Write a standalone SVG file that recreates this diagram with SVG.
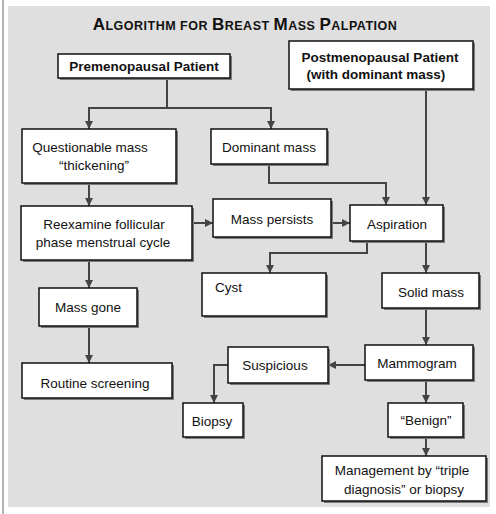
<svg xmlns="http://www.w3.org/2000/svg" width="496" height="514" viewBox="0 0 496 514">
<style>
.bg{fill:#dfdfdf}
.sh{fill:#7a7a7a}
.bx{fill:#ffffff;stroke:#111;stroke-width:1.5}
.t{font-family:"Liberation Sans",Arial,sans-serif;font-size:13.5px;fill:#111;text-anchor:middle}
.b{font-weight:bold;font-size:13.5px}
.ttl{font-family:"Liberation Sans",Arial,sans-serif;font-weight:bold;fill:#111;text-anchor:middle;letter-spacing:0.5px}
.big{font-size:17px}
.sm{font-size:12.5px}
.c{fill:none;stroke:#444;stroke-width:2}
.ca{fill:none;stroke:#444;stroke-width:2;marker-end:url(#ah)}
</style>
<defs>
<marker id="ah" viewBox="0 0 10 10" refX="10" refY="5" markerWidth="8" markerHeight="8" markerUnits="userSpaceOnUse" orient="auto">
<path d="M0,0 L10,5 L0,10 z" fill="#444"/>
</marker>
</defs>
<rect x="0" y="0" width="496" height="514" fill="#ffffff"/>
<line x1="3" y1="0" x2="3" y2="514" stroke="#666" stroke-width="1"/>
<rect class="bg" x="8" y="6" width="482" height="501"/>
<text class="ttl" x="245" y="30"><tspan class="big">A</tspan><tspan class="sm">LGORITHM FOR </tspan><tspan class="big">B</tspan><tspan class="sm">REAST </tspan><tspan class="big">M</tspan><tspan class="sm">ASS </tspan><tspan class="big">P</tspan><tspan class="sm">ALPATION</tspan></text>

<g id="connectors">
<path class="c" d="M167,78 V108"/>
<path class="ca" d="M167,108 H89 V129"/>
<path class="ca" d="M167,108 H271 V129"/>
<path class="ca" d="M269,164 V183 H386 V205"/>
<path class="ca" d="M426,89 V205"/>
<path class="ca" d="M89,183 V206"/>
<path class="ca" d="M192,223 H213"/>
<path class="ca" d="M331,223 H350"/>
<path class="ca" d="M367,241 V253 H270 V273"/>
<path class="ca" d="M426,241 V273"/>
<path class="ca" d="M89,260 V288"/>
<path class="ca" d="M89,326 V363"/>
<path class="ca" d="M426,308 V345"/>
<path class="ca" d="M365,365 H328"/>
<path class="ca" d="M228,365 H214 V403"/>
<path class="ca" d="M426,380 V403"/>
<path class="ca" d="M426,437 V456"/>
</g>

<g id="premenopausal">
<rect class="sh" x="60" y="56" width="172" height="24"/>
<rect class="bx" x="58" y="54" width="172" height="24"/>
<text class="t b" x="144" y="71">Premenopausal Patient</text>
</g>
<g id="postmenopausal">
<rect class="sh" x="291" y="43" width="184" height="48"/>
<rect class="bx" x="289" y="41" width="184" height="48"/>
<text class="t b" x="380" y="62">Postmenopausal Patient</text>
<text class="t b" x="376" y="79">(with dominant mass)</text>
</g>
<g id="questionable">
<rect class="sh" x="24" y="131" width="154" height="54"/>
<rect class="bx" x="22" y="129" width="154" height="54"/>
<text class="t" x="90" y="152">Questionable mass</text>
<text class="t" x="94" y="170">“thickening”</text>
</g>
<g id="dominant">
<rect class="sh" x="213" y="131" width="116" height="35"/>
<rect class="bx" x="211" y="129" width="116" height="35"/>
<text class="t" x="269" y="152">Dominant mass</text>
</g>
<g id="reexamine">
<rect class="sh" x="23" y="208" width="171" height="54"/>
<rect class="bx" x="21" y="206" width="171" height="54"/>
<text class="t" x="104" y="229">Reexamine follicular</text>
<text class="t" x="103" y="247">phase menstrual cycle</text>
</g>
<g id="persists">
<rect class="sh" x="215" y="201" width="118" height="38"/>
<rect class="bx" x="213" y="199" width="118" height="38"/>
<text class="t" x="272" y="224">Mass persists</text>
</g>
<g id="aspiration">
<rect class="sh" x="352" y="207" width="93" height="36"/>
<rect class="bx" x="350" y="205" width="93" height="36"/>
<text class="t" x="397" y="229">Aspiration</text>
</g>
<g id="cyst">
<rect class="sh" x="204" y="275" width="124" height="43"/>
<rect class="bx" x="202" y="273" width="124" height="43"/>
<text class="t" x="215" y="292" style="text-anchor:start">Cyst</text>
</g>
<g id="solid">
<rect class="sh" x="384" y="275" width="97" height="35"/>
<rect class="bx" x="382" y="273" width="97" height="35"/>
<text class="t" x="431" y="297">Solid mass</text>
</g>
<g id="massgone">
<rect class="sh" x="41" y="290" width="98" height="38"/>
<rect class="bx" x="39" y="288" width="98" height="38"/>
<text class="t" x="88" y="312">Mass gone</text>
</g>
<g id="routine">
<rect class="sh" x="24" y="365" width="150" height="35"/>
<rect class="bx" x="22" y="363" width="150" height="35"/>
<text class="t" x="95" y="388">Routine screening</text>
</g>
<g id="suspicious">
<rect class="sh" x="230" y="349" width="100" height="36"/>
<rect class="bx" x="228" y="347" width="100" height="36"/>
<text class="t" x="275" y="370">Suspicious</text>
</g>
<g id="mammogram">
<rect class="sh" x="367" y="347" width="108" height="35"/>
<rect class="bx" x="365" y="345" width="108" height="35"/>
<text class="t" x="417" y="368">Mammogram</text>
</g>
<g id="biopsy">
<rect class="sh" x="185" y="405" width="60" height="34"/>
<rect class="bx" x="183" y="403" width="60" height="34"/>
<text class="t" x="212" y="426">Biopsy</text>
</g>
<g id="benign">
<rect class="sh" x="390" y="405" width="75" height="34"/>
<rect class="bx" x="388" y="403" width="75" height="34"/>
<text class="t" x="426" y="425">“Benign”</text>
</g>
<g id="management">
<rect class="sh" x="324" y="458" width="164" height="45"/>
<rect class="bx" x="322" y="456" width="164" height="45"/>
<text class="t" x="402" y="475">Management by “triple</text>
<text class="t" x="404" y="494">diagnosis” or biopsy</text>
</g>
</svg>
